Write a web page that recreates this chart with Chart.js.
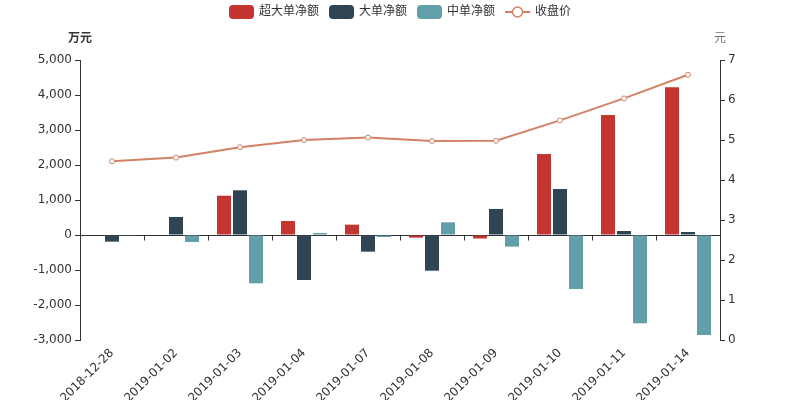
<!DOCTYPE html>
<html>
<head>
<meta charset="utf-8">
<script src="https://cdn.jsdelivr.net/npm/chart.js@4/dist/chart.umd.min.js"></script>
<style>
html,body{margin:0;padding:0;background:#fff;}
canvas{display:block;}
</style>
</head>
<body>
<canvas id="c" width="800" height="400"></canvas>
<script>
const categories = ['2018-12-28','2019-01-02','2019-01-03','2019-01-04','2019-01-07','2019-01-08','2019-01-09','2019-01-10','2019-01-11','2019-01-14'];
const superLargeNet = [0, 0, 1123, 400, 295, -75, -100, 2314, 3429, 4220];
const largeNet = [-190, 514, 1277, -1286, -476, -1020, 743, 1314, 114, 86];
const mediumNet = [-20, -200, -1380, 57, -57, 362, -333, -1543, -2523, -2857];
const closePrice = [4.47, 4.56, 4.82, 5.00, 5.06, 4.975, 4.98, 5.49, 6.04, 6.63];
const seriesNames = ['超大单净额', '大单净额', '中单净额', '收盘价'];
const colors = ['#c23531', '#2f4554', '#61a0a8', '#d48265'];
const leftTitle = '万元';
const rightTitle = '元';

const FONT = '"DejaVu Sans", "Noto Sans CJK SC", sans-serif';
Chart.defaults.font.family = FONT;
Chart.defaults.font.size = 12;
Chart.defaults.color = '#333';

const decor = {
  id: 'decor',
  beforeDatasetsDraw(chart) {
    const ctx = chart.ctx, a = chart.chartArea;
    const y0 = Math.round(chart.scales.y.getPixelForValue(0)) + 0.5;
    ctx.save();
    ctx.strokeStyle = '#333';
    ctx.lineWidth = 1;
    ctx.beginPath();
    ctx.moveTo(a.left, y0); ctx.lineTo(a.right, y0);
    const n = categories.length, w = (a.right - a.left) / n;
    for (let i = 0; i <= n; i++) {
      const x = Math.round(a.left + i * w) + 0.5;
      ctx.moveTo(x, y0); ctx.lineTo(x, y0 + 5);
    }
    ctx.stroke();
    ctx.restore();
  },
  afterDraw(chart) {
    const ctx = chart.ctx, a = chart.chartArea;
    ctx.save();
    ctx.font = '12px ' + FONT;
    ctx.textBaseline = 'middle';
    const widths = seriesNames.map(s => 30 + ctx.measureText(s).width);
    const total = widths.reduce((p, q) => p + q, 0) + 10 * (seriesNames.length - 1);
    let x = 400 - total / 2;
    const cy = 12;
    seriesNames.forEach((name, i) => {
      if (i < 3) {
        ctx.fillStyle = colors[i];
        ctx.beginPath();
        ctx.roundRect(x, cy - 7, 25, 14, 4);
        ctx.fill();
      } else {
        ctx.strokeStyle = colors[i];
        ctx.lineWidth = 2;
        ctx.beginPath();
        ctx.moveTo(x, cy); ctx.lineTo(x + 25, cy);
        ctx.stroke();
        ctx.fillStyle = '#fff';
        ctx.lineWidth = 1.5;
        ctx.beginPath();
        ctx.arc(x + 12.5, cy, 5, 0, Math.PI * 2);
        ctx.fill(); ctx.stroke();
      }
      ctx.fillStyle = '#333';
      ctx.textAlign = 'left';
      ctx.fillText(name, x + 30, cy);
      x += widths[i] + 10;
    });
    ctx.textAlign = 'center';
    ctx.font = 'bold 12px ' + FONT;
    ctx.fillStyle = '#333';
    ctx.fillText(leftTitle, a.left, 39);
    ctx.font = '12px ' + FONT;
    ctx.fillStyle = '#777';
    ctx.fillText(rightTitle, a.right, 39);
    ctx.restore();
  }
};

const barCommon = { categoryPercentage: 0.75, barPercentage: 0.875, yAxisID: 'y', order: 1 };

new Chart(document.getElementById('c'), {
  data: {
    labels: categories,
    datasets: [
      Object.assign({ type: 'bar', label: seriesNames[0], data: superLargeNet, backgroundColor: colors[0] }, barCommon),
      Object.assign({ type: 'bar', label: seriesNames[1], data: largeNet, backgroundColor: colors[1] }, barCommon),
      Object.assign({ type: 'bar', label: seriesNames[2], data: mediumNet, backgroundColor: colors[2] }, barCommon),
      { type: 'line', label: seriesNames[3], data: closePrice, yAxisID: 'y1', order: 0,
        borderColor: colors[3], borderWidth: 2, backgroundColor: '#fff',
        pointRadius: 2.5, pointBorderWidth: 1, pointBackgroundColor: '#fff', pointBorderColor: colors[3],
        tension: 0, fill: false }
    ]
  },
  options: {
    responsive: false,
    animation: false,
    layout: { padding: { top: 60, left: 0, right: 0, bottom: 0 } },
    plugins: { legend: { display: false }, tooltip: { enabled: false }, title: { display: false } },
    scales: {
      x: {
        type: 'category',
        offset: true,
        grid: { display: false },
        border: { display: false },
        ticks: { minRotation: 45, maxRotation: 45, padding: -2, color: '#333', autoSkip: false },
        afterFit(s) { s.height = 60; }
      },
      y: {
        position: 'left',
        min: -3000, max: 5000,
        ticks: { stepSize: 1000, padding: 3, color: '#333', callback: v => v.toLocaleString('en-US') },
        grid: { drawOnChartArea: false, drawTicks: true, tickLength: 5, color: '#333' },
        border: { display: true, color: '#333', width: 1 },
        afterFit(s) { s.width = 80; }
      },
      y1: {
        position: 'right',
        min: 0, max: 7,
        ticks: { stepSize: 1, padding: 3, color: '#333' },
        grid: { drawOnChartArea: false, drawTicks: true, tickLength: 5, color: '#333' },
        border: { display: true, color: '#333', width: 1 },
        afterFit(s) { s.width = 80; }
      }
    }
  },
  plugins: [decor]
});
</script>
</body>
</html>
